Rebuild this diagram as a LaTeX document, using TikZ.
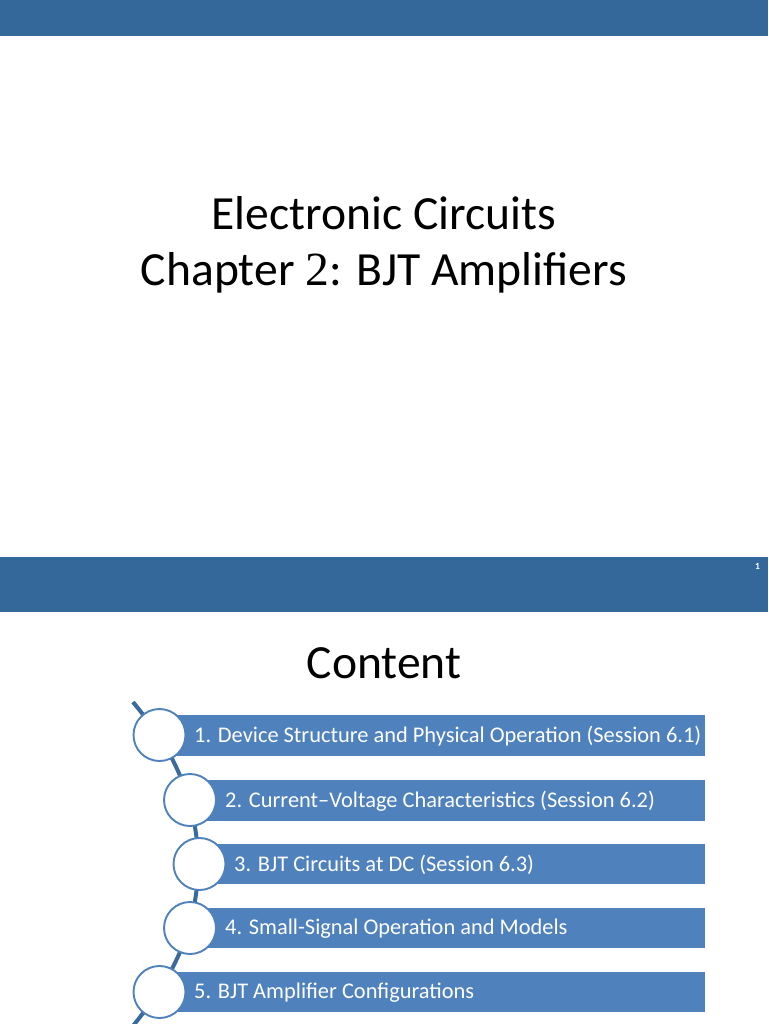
\documentclass[tikz,border=0pt]{standalone}
\usepackage{fontspec}
\setmainfont{Carlito}
\newfontfamily\serifnum{Liberation Serif}
\definecolor{band}{HTML}{34679A}
\definecolor{barblue}{HTML}{4F81BD}
\definecolor{spine}{HTML}{3A6A9C}
\tikzset{
  x=1pt,y=-1pt,
  bandbox/.style={fill=band,draw=none},
  dot/.style={circle,fill=white,draw=barblue,line width=1.9pt,minimum size=52pt,inner sep=0pt},
  spineline/.style={draw=spine,line width=4pt},
  bartext/.style={text=white,font=\fontsize{22.4}{26}\selectfont,anchor=west,inner sep=0pt},
  titletext/.style={text=black,font=\fontsize{47.6}{56}\selectfont,align=center,inner sep=0pt}
}
\begin{document}
\begin{tikzpicture}
\useasboundingbox (0,0) rectangle (768,1024);
\fill[white] (0,0) rectangle (768,1024);
\fill[bandbox] (0,0) rectangle (768,36);
\fill[bandbox] (0,557) rectangle (768,612);
\node[titletext] (title) at (384,244.5) {Electronic Circuits\\Chapter {\serifnum 2}: BJT Amplifiers};
\node[text=white,font=\fontsize{9.5}{10}\selectfont\bfseries,inner sep=0pt] (pg) at (757.5,566) {1};
\node[text=black,font=\fontsize{47.6}{50}\selectfont,inner sep=0pt] (content) at (384,663) {Content};
% spine
\coordinate (top) at (133,702);
\coordinate (bot) at (133,1026);
\coordinate (c1) at (159.5,735);
\coordinate (c2) at (190,800);
\coordinate (c3) at (199.5,864);
\coordinate (c4) at (190,928);
\coordinate (c5) at (159.5,992);
\draw[spineline] (top) -- (c1);
\draw[spineline] (c1) to[bend left=4] (c2);
\draw[spineline] (c2) to[bend left=3] (c3);
\draw[spineline] (c3) to[bend left=3] (c4);
\draw[spineline] (c4) to[bend left=4] (c5);
\draw[spineline] (c5) -- (bot);
% bars
\fill[barblue] (159.5,715) rectangle (705,755.5);
\fill[barblue] (190,780) rectangle (705,820.5);
\fill[barblue] (199.5,844) rectangle (705,884);
\fill[barblue] (190,908) rectangle (705,948);
\fill[barblue] (159.5,972) rectangle (705,1012);
% circles
\node[dot] (n1) at (c1) {};
\node[dot] (n2) at (c2) {};
\node[dot] (n3) at (c3) {};
\node[dot] (n4) at (c4) {};
\node[dot] (n5) at (c5) {};
% labels
\node[bartext] (t1) at (194,736) {1. Device Structure and Physical Operation (Session 6.1)};
\node[bartext] (t2) at (225,801) {2. Current–Voltage Characteristics (Session 6.2)};
\node[bartext] (t3) at (234,864.5) {3. BJT Circuits at DC (Session 6.3)};
\node[bartext] (t4) at (225,928.5) {4. Small-Signal Operation and Models};
\node[bartext] (t5) at (194,992.5) {5. BJT Amplifier Configurations};
\end{tikzpicture}
\end{document}
